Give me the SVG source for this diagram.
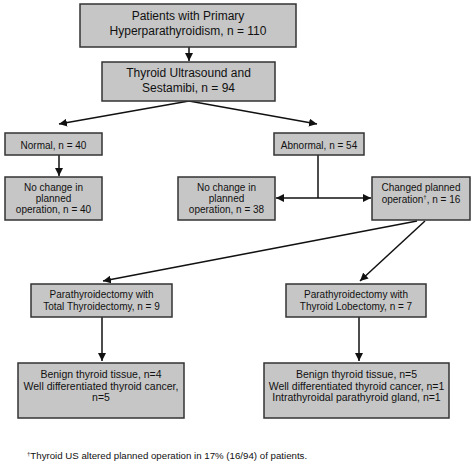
<svg xmlns="http://www.w3.org/2000/svg" width="474" height="468" viewBox="0 0 474 468">
<defs>
<marker id="ah" viewBox="0 0 10 10" refX="10" refY="5" markerWidth="8" markerHeight="8" markerUnits="userSpaceOnUse" orient="auto-start-reverse">
<path d="M0,0 L10,5 L0,10 z" fill="#111"/>
</marker>
<style>
.box{fill:#c6c6c6;stroke:#333;stroke-width:1.5}
.t{font-family:"Liberation Sans",Arial,sans-serif;fill:#111;text-anchor:middle}
.big{font-size:12px}
.sm{font-size:10px}
.res{font-size:10.5px}
.c{stroke:#111;stroke-width:1.5;fill:none}
.a{marker-end:url(#ah)}
</style>
</defs>
<rect width="474" height="468" fill="#fff"/>
<g id="connectors">
<line class="c a" x1="189" y1="47" x2="189" y2="61"/>
<line class="c a" x1="189" y1="101" x2="59" y2="124"/>
<line class="c a" x1="189" y1="101" x2="317" y2="124"/>
<line class="c a" x1="59" y1="155" x2="59" y2="176"/>
<line class="c" x1="318" y1="155" x2="318" y2="198"/>
<line class="c a" x1="318" y1="198" x2="276" y2="198"/>
<line class="c a" x1="318" y1="198" x2="371" y2="198"/>
<line class="c a" x1="417" y1="221" x2="103" y2="281"/>
<line class="c a" x1="425" y1="221" x2="360" y2="281"/>
<line class="c a" x1="102" y1="317" x2="102" y2="361"/>
<line class="c a" x1="359" y1="317" x2="359" y2="361"/>
</g>
<g id="n1"><rect class="box" x="80" y="4" width="216" height="43"/>
<text class="t big" x="188" y="20">Patients with Primary</text>
<text class="t big" x="188" y="34.5">Hyperparathyroidism, n = 110</text></g>
<g id="n2"><rect class="box" x="102" y="62" width="173" height="39"/>
<text class="t big" x="188.5" y="77">Thyroid Ultrasound and</text>
<text class="t big" x="188.5" y="92">Sestamibi, n = 94</text></g>
<g id="n3"><rect class="box" x="5" y="133" width="97" height="22"/>
<text class="t sm" x="53.5" y="148.5">Normal, n = 40</text></g>
<g id="n4"><rect class="box" x="274" y="133" width="90" height="22"/>
<text class="t sm" x="319" y="148.5">Abnormal, n = 54</text></g>
<g id="n5"><rect class="box" x="5" y="177" width="97" height="43"/>
<text class="t sm" x="53.5" y="190.5">No change in</text>
<text class="t sm" x="53.5" y="202">planned</text>
<text class="t sm" x="53.5" y="213">operation, n = 40</text></g>
<g id="n6"><rect class="box" x="178" y="177" width="97" height="43"/>
<text class="t sm" x="226.5" y="190.5">No change in</text>
<text class="t sm" x="226.5" y="202">planned</text>
<text class="t sm" x="226.5" y="213">operation, n = 38</text></g>
<g id="n7"><rect class="box" x="372" y="177" width="98" height="43"/>
<text class="t sm" x="421" y="190.5">Changed planned</text>
<text class="t sm" x="421" y="202.5">operation<tspan font-size="6" dy="-4">†</tspan><tspan dy="4">, n = 16</tspan></text></g>
<g id="n8"><rect class="box" x="31" y="284" width="141" height="33"/>
<text class="t sm" x="101.5" y="297.5">Parathyroidectomy with</text>
<text class="t sm" x="101.5" y="309.5">Total Thyroidectomy, n = 9</text></g>
<g id="n9"><rect class="box" x="286" y="284" width="140" height="33"/>
<text class="t sm" x="356" y="297.5">Parathyroidectomy with</text>
<text class="t sm" x="356" y="309.5">Thyroid Lobectomy, n = 7</text></g>
<g id="n10"><rect class="box" x="18" y="363" width="166" height="55"/>
<text class="t res" x="101" y="378">Benign thyroid tissue, n=4</text>
<text class="t res" x="101" y="389.5">Well differentiated thyroid cancer,</text>
<text class="t res" x="101" y="401">n=5</text></g>
<g id="n11"><rect class="box" x="264" y="363" width="185" height="55"/>
<text class="t res" x="356.5" y="378">Benign thyroid tissue, n=5</text>
<text class="t res" x="356.5" y="389.5">Well differentiated thyroid cancer, n=1</text>
<text class="t res" x="356.5" y="401">Intrathyroidal parathyroid gland, n=1</text></g>
<g id="footnote">
<text font-family="Liberation Sans, Arial, sans-serif" font-size="9.7" fill="#111" x="27" y="459"><tspan font-size="6" dy="-3.5">†</tspan><tspan dy="3.5">Thyroid US altered planned operation in 17% (16/94) of patients.</tspan></text>
</g>
</svg>
